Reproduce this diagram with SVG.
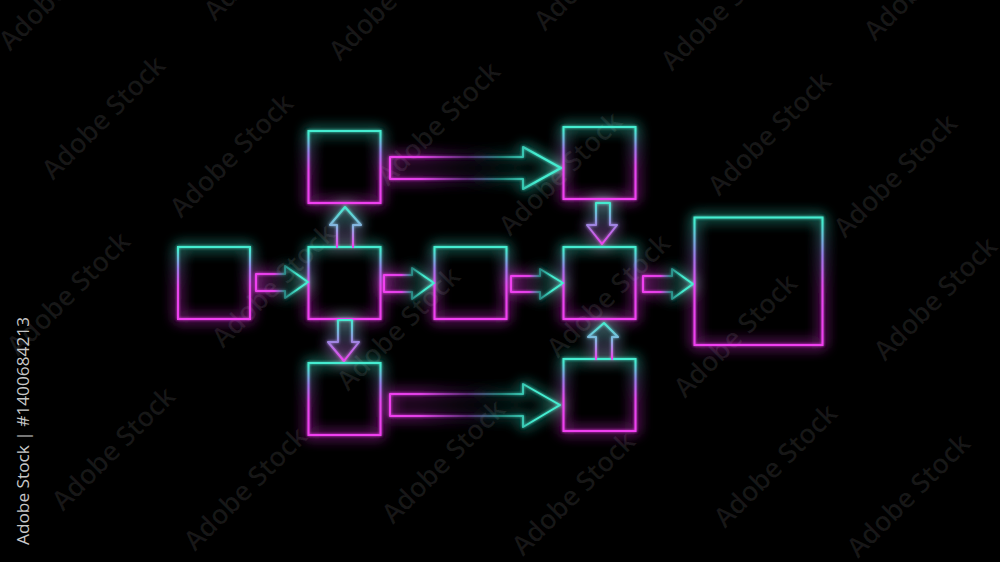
<svg xmlns="http://www.w3.org/2000/svg" width="1000" height="562" viewBox="0 0 1000 562">
<defs>
<linearGradient id="gBox" x1="0" y1="0" x2="0" y2="1">
<stop offset="0" stop-color="#45ecd0"/>
<stop offset="0.04" stop-color="#45ecd0"/>
<stop offset="0.3" stop-color="#9a7ae6"/>
<stop offset="0.55" stop-color="#e645ee"/>
<stop offset="1" stop-color="#f040f0"/>
</linearGradient>
<linearGradient id="gRight" x1="0" y1="0" x2="1" y2="0">
<stop offset="0" stop-color="#f040f0"/>
<stop offset="0.35" stop-color="#e040e6"/>
<stop offset="0.55" stop-color="#2c9c96" stop-opacity="0.7"/>
<stop offset="0.8" stop-color="#45ecd0"/>
<stop offset="1" stop-color="#45ecd0"/>
</linearGradient>
<linearGradient id="gLong" x1="0" y1="0" x2="1" y2="0">
<stop offset="0" stop-color="#f040f0"/>
<stop offset="0.18" stop-color="#e040e6"/>
<stop offset="0.45" stop-color="#7a3a9a" stop-opacity="0.6"/>
<stop offset="0.65" stop-color="#2a9a90" stop-opacity="0.7"/>
<stop offset="0.85" stop-color="#45ecd0"/>
<stop offset="1" stop-color="#45ecd0"/>
</linearGradient>
<linearGradient id="gDown" x1="0" y1="0" x2="0" y2="1">
<stop offset="0" stop-color="#45ecd0"/>
<stop offset="0.5" stop-color="#9a8ae0"/>
<stop offset="1" stop-color="#f040f0"/>
</linearGradient>
<linearGradient id="gUp" x1="0" y1="1" x2="0" y2="0">
<stop offset="0" stop-color="#f040f0"/>
<stop offset="0.5" stop-color="#8ab0e0"/>
<stop offset="1" stop-color="#45ecd0"/>
</linearGradient>
<filter id="glow" filterUnits="userSpaceOnUse" x="0" y="0" width="1000" height="562">
<feGaussianBlur in="SourceGraphic" stdDeviation="1.5" result="b1"/>
<feGaussianBlur in="SourceGraphic" stdDeviation="7" result="b2"/>
<feMerge><feMergeNode in="b2"/><feMergeNode in="b2"/><feMergeNode in="b1"/><feMergeNode in="SourceGraphic"/></feMerge>
</filter>
<style>
.box{fill:none;stroke:url(#gBox);stroke-width:2;}
.ar{fill:none;stroke-width:2;stroke-linejoin:round;stroke-linecap:round;}
.r{stroke:url(#gRight);}
.l{stroke:url(#gLong);}
.d{stroke:url(#gDown);}
.u{stroke:url(#gUp);}
.wm{font-family:"Open Sans","DejaVu Sans",sans-serif;font-size:27px;font-weight:600;fill:#ffffff;fill-opacity:0.09;text-anchor:middle;}
.id{font-family:"Open Sans","DejaVu Sans",sans-serif;font-size:17px;fill:#c8c8c8;}
</style>
</defs>
<rect width="1000" height="562" fill="#000"/>
<g id="watermarks">
<text class="wm" transform="translate(67,-5) rotate(-45)">Adobe Stock</text>
<text class="wm" transform="translate(272,-35) rotate(-45)">Adobe Stock</text>
<text class="wm" transform="translate(397,5) rotate(-45)">Adobe Stock</text>
<text class="wm" transform="translate(602,-25) rotate(-45)">Adobe Stock</text>
<text class="wm" transform="translate(729,15) rotate(-45)">Adobe Stock</text>
<text class="wm" transform="translate(932,-15) rotate(-45)">Adobe Stock</text>
<text class="wm" transform="translate(110,124) rotate(-45)">Adobe Stock</text>
<text class="wm" transform="translate(238,162) rotate(-45)">Adobe Stock</text>
<text class="wm" transform="translate(445,130) rotate(-45)">Adobe Stock</text>
<text class="wm" transform="translate(567,180) rotate(-45)">Adobe Stock</text>
<text class="wm" transform="translate(776,140) rotate(-45)">Adobe Stock</text>
<text class="wm" transform="translate(902,182) rotate(-45)">Adobe Stock</text>
<text class="wm" transform="translate(75,300) rotate(-45)">Adobe Stock</text>
<text class="wm" transform="translate(280,292) rotate(-45)">Adobe Stock</text>
<text class="wm" transform="translate(405,335) rotate(-45)">Adobe Stock</text>
<text class="wm" transform="translate(615,302) rotate(-45)">Adobe Stock</text>
<text class="wm" transform="translate(742,342) rotate(-45)">Adobe Stock</text>
<text class="wm" transform="translate(942,305) rotate(-45)">Adobe Stock</text>
<text class="wm" transform="translate(120,455) rotate(-45)">Adobe Stock</text>
<text class="wm" transform="translate(252,495) rotate(-45)">Adobe Stock</text>
<text class="wm" transform="translate(450,468) rotate(-45)">Adobe Stock</text>
<text class="wm" transform="translate(580,500) rotate(-45)">Adobe Stock</text>
<text class="wm" transform="translate(782,472) rotate(-45)">Adobe Stock</text>
<text class="wm" transform="translate(915,502) rotate(-45)">Adobe Stock</text>
<text class="id" transform="translate(29,545) rotate(-90)" textLength="228" lengthAdjust="spacingAndGlyphs">Adobe Stock | #1400684213</text>
</g>
<g filter="url(#glow)">
<g id="nodes">
<g id="boxA"><rect class="box" x="178" y="247" width="72" height="72"/></g>
<g id="boxB"><rect class="box" x="308.5" y="131" width="72" height="72"/></g>
<g id="boxC"><rect class="box" x="308.5" y="247" width="72" height="72"/></g>
<g id="boxD"><rect class="box" x="308.5" y="363" width="72" height="72"/></g>
<g id="boxE"><rect class="box" x="434.5" y="247" width="72" height="72"/></g>
<g id="boxF"><rect class="box" x="563.5" y="127" width="72" height="72"/></g>
<g id="boxG"><rect class="box" x="563.5" y="247" width="72" height="72"/></g>
<g id="boxH"><rect class="box" x="563.5" y="359" width="72" height="72"/></g>
<g id="boxI"><rect class="box" x="694.5" y="217.5" width="128" height="127.5"/></g>
</g>
<g id="connectors">
<path class="ar r" d="M256,274 H285 V266 L308,282 L285,298 V291 H256 Z"/>
<path class="ar r" d="M384,275 H412 V268 L434,283 L412,299 V292 H384 Z"/>
<path class="ar r" d="M511,276 H540 V269 L563,283 L540,299 V292 H511 Z"/>
<path class="ar r" d="M643,276 H672 V269 L693,284 L672,299 V292 H643 Z"/>
<path class="ar l" d="M390,157 H523 V147 L561,168 L523,189 V179 H390 Z"/>
<path class="ar l" d="M390,394 H523 V384 L560,405 L523,427 V416 H390 Z"/>
<path class="ar u" d="M337,247 V225 H330 L345,207 L361,225 H353 V247"/>
<path class="ar d" d="M338,320 H352 V342 H359 L344,361 L328,342 H338 Z"/>
<path class="ar d" d="M596,203 H610 V225 H617 L602,244 L587,225 H596 Z"/>
<path class="ar u" d="M596,359 V337 H588 L604,323 L618,337 H612 V359"/>
</g>
</g>
</svg>
